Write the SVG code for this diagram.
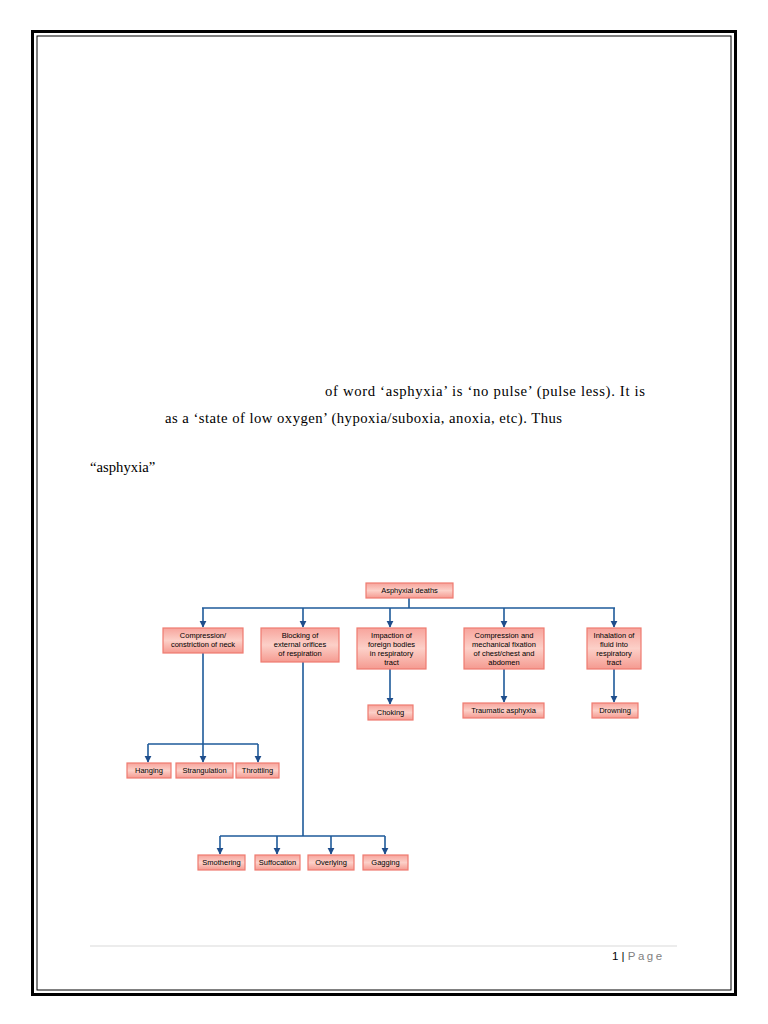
<svg xmlns="http://www.w3.org/2000/svg" width="768" height="1024" viewBox="0 0 768 1024">
<defs>
<linearGradient id="g" x1="0" y1="0" x2="0" y2="1"><stop offset="0" stop-color="#f7a49c"/><stop offset="0.5" stop-color="#fcd0c8"/><stop offset="1" stop-color="#f59a90"/></linearGradient>
<marker id="a" viewBox="0 0 10 10" refX="9" refY="5" markerWidth="4.5" markerHeight="4.5" orient="auto"><path d="M0,0L10,5L0,10z" fill="#1f4e8c"/></marker>
</defs>
<style>
.n{fill:url(#g);stroke:#ef7b70;stroke-width:1.2}
.t{font-family:"Liberation Sans",Arial,sans-serif;font-size:7.5px;fill:#000;text-anchor:middle}
.c{fill:none;stroke:#1f5b9a;stroke-width:1.6}
.c2{fill:none;stroke:#1f5b9a;stroke-width:1.6;marker-end:url(#a)}
.p{font-family:"Liberation Serif","Times New Roman",serif;font-size:14.7px;fill:#000}
</style>
<rect width="768" height="1024" fill="#fff"/>
<rect x="32.5" y="31.5" width="703" height="963" fill="none" stroke="#000" stroke-width="3"/>
<rect x="37" y="36" width="694" height="954" fill="none" stroke="#000" stroke-width="1"/>
<text class="p" x="325" y="396" textLength="320">of word ‘asphyxia’ is ‘no pulse’ (pulse less). It is</text>
<text class="p" x="165" y="423" textLength="397">as a ‘state of low oxygen’ (hypoxia/suboxia, anoxia, etc). Thus</text>
<text class="p" x="90" y="472">“asphyxia”</text>
<g id="connectors">
<path class="c" d="M409,598V608M202,608H615"/>
<line class="c2" x1="203" y1="608" x2="203" y2="627"/>
<line class="c2" x1="303" y1="608" x2="303" y2="627"/>
<line class="c2" x1="390" y1="608" x2="390" y2="627"/>
<line class="c2" x1="504" y1="608" x2="504" y2="627"/>
<line class="c2" x1="614" y1="608" x2="614" y2="627"/>
<line class="c2" x1="390" y1="669" x2="390" y2="704"/>
<line class="c2" x1="504" y1="669" x2="504" y2="702"/>
<line class="c2" x1="614" y1="669" x2="614" y2="702"/>
<path class="c" d="M203,653V744M148,744H258"/>
<line class="c2" x1="148" y1="744" x2="148" y2="762"/>
<line class="c2" x1="203" y1="744" x2="203" y2="762"/>
<line class="c2" x1="258" y1="744" x2="258" y2="762"/>
<path class="c" d="M303,662V836M220,836H385"/>
<line class="c2" x1="220" y1="836" x2="220" y2="854"/>
<line class="c2" x1="277" y1="836" x2="277" y2="854"/>
<line class="c2" x1="331" y1="836" x2="331" y2="854"/>
<line class="c2" x1="385" y1="836" x2="385" y2="854"/>
</g>
<g id="root"><rect class="n" x="366" y="583" width="87" height="15"/><text class="t" x="409.5" y="593">Asphyxial deaths</text></g>
<g id="n1"><rect class="n" x="163" y="628" width="80" height="25"/><text class="t" x="203" y="638">Compression/</text><text class="t" x="203" y="647">constriction of neck</text></g>
<g id="n2"><rect class="n" x="261" y="628" width="78" height="34"/><text class="t" x="300" y="638">Blocking of</text><text class="t" x="300" y="647">external orifices</text><text class="t" x="300" y="656">of respiration</text></g>
<g id="n3"><rect class="n" x="357" y="628" width="69" height="41"/><text class="t" x="391.5" y="638">Impaction of</text><text class="t" x="391.5" y="647">foreign bodies</text><text class="t" x="391.5" y="656">in respiratory</text><text class="t" x="391.5" y="665">tract</text></g>
<g id="n4"><rect class="n" x="464" y="628" width="80" height="41"/><text class="t" x="504" y="638">Compression and</text><text class="t" x="504" y="647">mechanical fixation</text><text class="t" x="504" y="656">of chest/chest and</text><text class="t" x="504" y="665">abdomen</text></g>
<g id="n5"><rect class="n" x="587" y="628" width="54" height="41"/><text class="t" x="614" y="638">Inhalation of</text><text class="t" x="614" y="647">fluid into</text><text class="t" x="614" y="656">respiratory</text><text class="t" x="614" y="665">tract</text></g>
<g id="choking"><rect class="n" x="368" y="705" width="45" height="15"/><text class="t" x="390.5" y="715">Choking</text></g>
<g id="traumatic"><rect class="n" x="463" y="703" width="81" height="15"/><text class="t" x="503.5" y="713">Traumatic asphyxia</text></g>
<g id="drowning"><rect class="n" x="592" y="703" width="46" height="15"/><text class="t" x="615" y="713">Drowning</text></g>
<g id="hanging"><rect class="n" x="127" y="763" width="44" height="15"/><text class="t" x="149" y="773">Hanging</text></g>
<g id="strangulation"><rect class="n" x="176" y="763" width="57" height="15"/><text class="t" x="204.5" y="773">Strangulation</text></g>
<g id="throttling"><rect class="n" x="236" y="763" width="43" height="15"/><text class="t" x="257.5" y="773">Throttling</text></g>
<g id="smothering"><rect class="n" x="198" y="855" width="47" height="15"/><text class="t" x="221.5" y="865">Smothering</text></g>
<g id="suffocation"><rect class="n" x="255" y="855" width="45" height="15"/><text class="t" x="277.5" y="865">Suffocation</text></g>
<g id="overlying"><rect class="n" x="308" y="855" width="46" height="15"/><text class="t" x="331" y="865">Overlying</text></g>
<g id="gagging"><rect class="n" x="363" y="855" width="45" height="15"/><text class="t" x="385.5" y="865">Gagging</text></g>
<line x1="90" y1="946" x2="677" y2="946" stroke="#d9d9d9" stroke-width="1"/>
<text x="612" y="960" font-family="Liberation Sans,Arial,sans-serif" font-size="11.5" fill="#000">1 <tspan fill="#000">|</tspan> <tspan fill="#7f7f7f" letter-spacing="2.5">Page</tspan></text>
</svg>
